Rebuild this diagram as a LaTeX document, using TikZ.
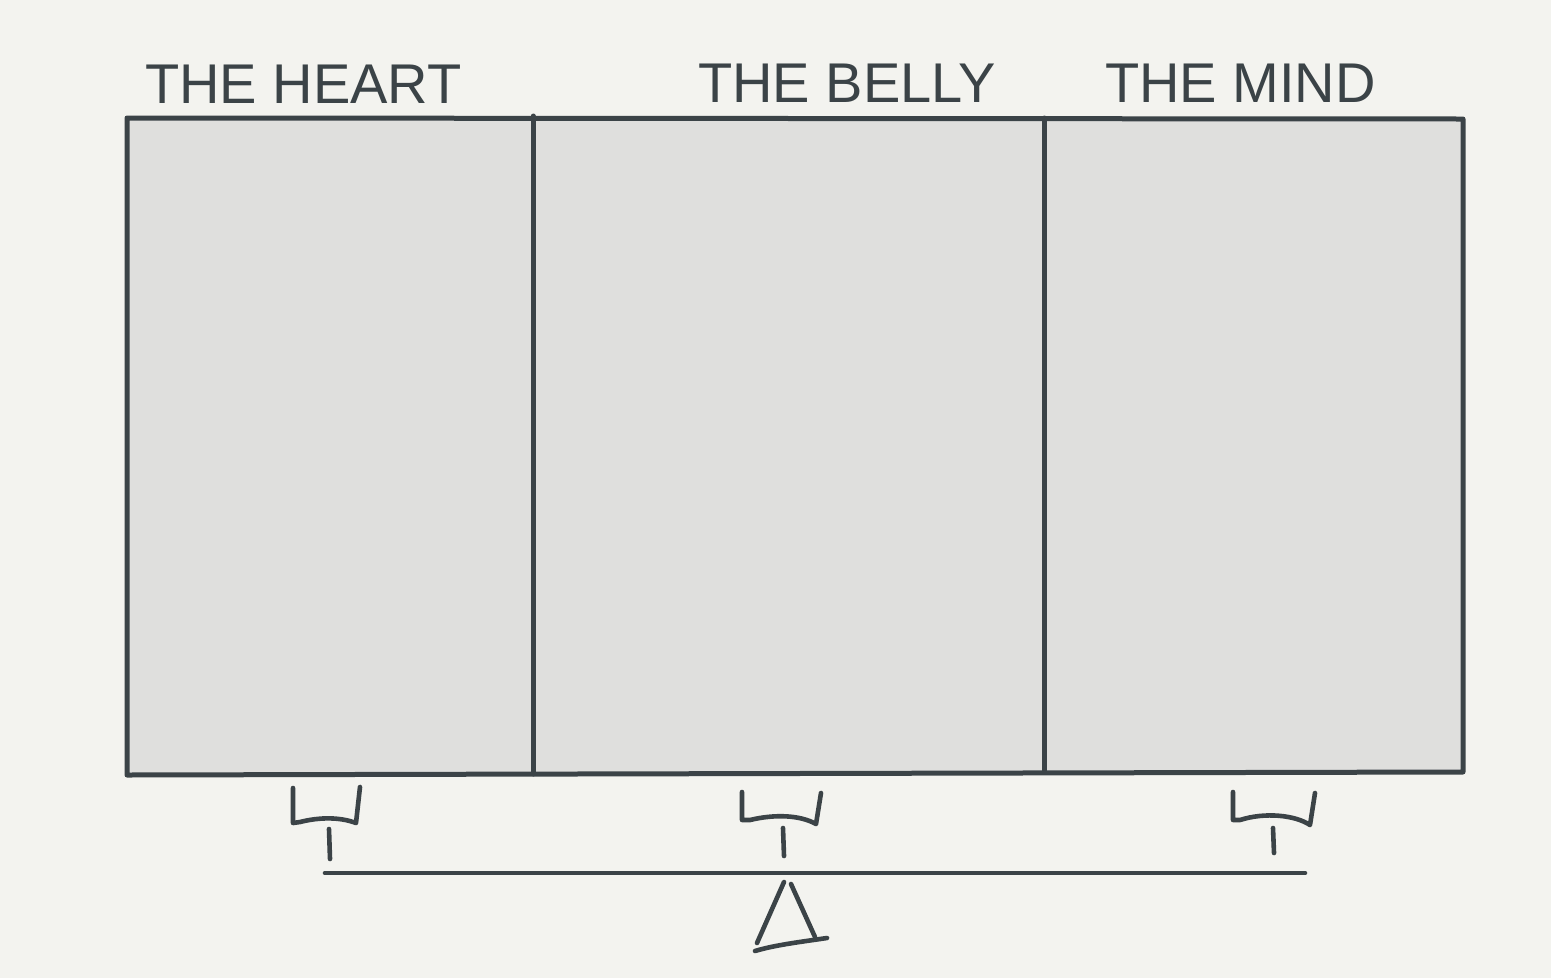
\documentclass[tikz,border=0pt]{standalone}
\usepackage{fontspec}
\setmainfont{Liberation Sans}
\usepackage{tikz}
\usetikzlibrary{backgrounds,calc}
\definecolor{paper}{HTML}{F3F3EF}
\definecolor{panelgrey}{HTML}{DFDFDD}
\definecolor{ink}{HTML}{3B4347}

\begin{document}
\begin{tikzpicture}[x=1pt,y=-1pt,
  ink line/.style={draw=ink,line width=5pt,line cap=round,line join=round},
  thin line/.style={draw=ink,line width=4.6pt,line cap=round,line join=round},
  lbl/.style={anchor=base west,inner sep=0pt,text=ink,font=\fontsize{56}{60}\selectfont}]
\fill[paper] (0,0) rectangle (1551,978);
\useasboundingbox (0,0) rectangle (1551,978);
\fill[panelgrey] (127,118) -- (1463,119) -- (1463,772) -- (127,775) -- cycle;
\draw[ink line] (127,118) -- (1463,119) -- (1463,772) -- (127,775) -- cycle;
\draw[ink line] (533,116) -- (533,774);
\draw[ink line] (1044,118) -- (1044,772);
\node[lbl] (heart) at (145,103) {THE HEART};
\node[lbl] (belly) at (698,102) {THE BELLY};
\node[lbl] (mind) at (1105,102) {THE MIND};
\draw[thin line] (293,788) -- (293,823) -- (300,822) .. controls (320,817) and (340,817) .. (356,823) -- (360,787);
\draw[thin line] (329,829) -- (330,859);
\draw[thin line] (742,792) -- (742,820) -- (750,820) .. controls (775,814) and (800,815) .. (816,824) -- (821,793);
\draw[thin line] (783,828) -- (784,856);
\draw[thin line] (1233,792) -- (1233,820) -- (1240,820) .. controls (1265,812) and (1295,815) .. (1310,825) -- (1315,793);
\draw[thin line] (1273,828) -- (1274,853);
\draw[thin line] (325,873) -- (1305,873);
\draw[thin line] (784,882) -- (757,943);
\draw[thin line] (791,884) -- (815,937);
\draw[thin line] (755,951) .. controls (775,945) and (800,942) .. (827,938);
\end{tikzpicture}
\end{document}
